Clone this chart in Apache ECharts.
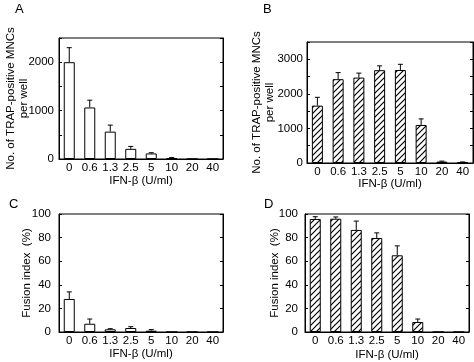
<!DOCTYPE html>
<html>
<head>
<meta charset="utf-8">
<script src="https://cdn.jsdelivr.net/npm/echarts@6/dist/echarts.min.js"></script>
<style>
html,body{margin:0;padding:0;background:#fff;}
#c{width:474px;height:362px;}
</style>
</head>
<body>
<div id="c"></div>
<script>
// ---- data ----
var categories = ['0', '0.6', '1.3', '2.5', '5', '10', '20', '40'];
var trapPlain   = [2000, 1065, 565, 210, 115, 20, 0, 0];
var trapPlainSD = [300, 150, 135, 50, 15, 10, 0, 0];
var trapHatch   = [1660, 2425, 2470, 2685, 2690, 1100, 40, 20];
var trapHatchSD = [240, 190, 130, 125, 165, 175, 15, 10];
var fusionPlain   = [28, 7, 2.3, 3.4, 1.1, 0, 0, 0];
var fusionPlainSD = [6, 4, 0.5, 1.1, 0.9, 0, 0, 0];
var fusionHatch   = [95.8, 96, 86.5, 79.7, 65, 8.5, 0, 0];
var fusionHatchSD = [1.9, 1.5, 7.5, 4.3, 8, 2.5, 0, 0];
var panelLetters = ['A', 'B', 'C', 'D'];
var xTitle = 'IFN-β (U/ml)';
var yTitleTrap = 'No. of TRAP-positive MNCs\nper well';
var yTitleFusion = 'Fusion index  (%)';

// ---- hatch pattern ----
function makeHatch() {
  var s = 6;
  var cv = document.createElement('canvas');
  cv.width = s; cv.height = s;
  var ctx = cv.getContext('2d');
  ctx.fillStyle = '#fff';
  ctx.fillRect(0, 0, s, s);
  ctx.strokeStyle = '#000';
  ctx.lineWidth = 1.2;
  ctx.beginPath();
  ctx.moveTo(-1, s + 1); ctx.lineTo(s + 1, -1);
  ctx.moveTo(-1, 1); ctx.lineTo(1, -1);
  ctx.moveTo(s - 1, s + 1); ctx.lineTo(s + 1, s - 1);
  ctx.stroke();
  return cv;
}
var hatch = { image: makeHatch(), repeat: 'repeat' };

var FONT = '"Liberation Sans", Arial, Helvetica, sans-serif';
var grids = [
  { left: 59, top: 38, width: 164, height: 121 },
  { left: 307, top: 42, width: 166, height: 121 },
  { left: 59, top: 214, width: 164, height: 118 },
  { left: 305, top: 214, width: 164, height: 118 }
];
var panels = [
  { vals: trapPlain, sd: trapPlainSD, fill: '#fff', max: 2500, interval: 500, labelEvery: 1000, yName: yTitleTrap, yGap: 29, yMargin: 5, xGap: 16 },
  { vals: trapHatch, sd: trapHatchSD, fill: hatch, max: 3500, interval: 500, labelEvery: 1000, yName: yTitleTrap, yGap: 30.5, yMargin: 4, xGap: 15 },
  { vals: fusionPlain, sd: fusionPlainSD, fill: '#fff', max: 100, interval: 20, labelEvery: 20, yName: yTitleFusion, yGap: 26, yMargin: 8, xGap: 16 },
  { vals: fusionHatch, sd: fusionHatchSD, fill: hatch, max: 100, interval: 20, labelEvery: 20, yName: yTitleFusion, yGap: 24, yMargin: 7, xGap: 17 }
];

var xAxes = [], yAxes = [], series = [];
panels.forEach(function (p, i) {
  xAxes.push({
    type: 'category', gridIndex: i, data: categories,
    axisLine: { lineStyle: { color: '#000', width: 1 } },
    axisTick: { inside: true, length: 3, lineStyle: { color: '#000' } },
    axisLabel: { interval: 0, margin: 3, color: '#000', fontSize: 11.5, fontFamily: FONT },
    name: xTitle, nameLocation: 'middle', nameGap: p.xGap, nameMoveOverlap: false,
    nameTextStyle: { color: '#000', fontSize: 11.5, fontFamily: FONT }
  });
  yAxes.push({
    type: 'value', gridIndex: i, min: 0, max: p.max, interval: p.interval,
    axisLine: { show: true, lineStyle: { color: '#000', width: 1 } },
    axisTick: { show: true, inside: true, length: 3, lineStyle: { color: '#000' } },
    axisLabel: {
      margin: p.yMargin, color: '#000', fontSize: 11.5, fontFamily: FONT,
      formatter: (function (every) { return function (v) { return (v % every === 0) ? String(v) : ''; }; })(p.labelEvery)
    },
    splitLine: { show: false },
    name: p.yName, nameLocation: 'middle', nameGap: p.yGap, nameMoveOverlap: false,
    nameTextStyle: { color: '#000', fontSize: 11.5, fontFamily: FONT, lineHeight: 13, align: 'center' }
  });
  yAxes.push({
    type: 'value', gridIndex: i, min: 0, max: p.max, interval: p.interval, position: 'right',
    axisLine: { show: true, lineStyle: { color: '#000', width: 1 } },
    axisTick: { show: true, inside: true, length: 3, lineStyle: { color: '#000' } },
    axisLabel: { show: false },
    splitLine: { show: false }
  });
  series.push({
    type: 'bar', xAxisIndex: i, yAxisIndex: i * 2, data: p.vals, barWidth: 11,
    itemStyle: { color: p.fill, borderColor: '#000', borderWidth: 1 },
    silent: true, animation: false
  });
  var errData = p.vals.map(function (v, k) { return [k, v, v + p.sd[k]]; });
  series.push({
    type: 'custom', xAxisIndex: i, yAxisIndex: i * 2, data: errData, silent: true, animation: false, z: 1,
    renderItem: function (params, api) {
      var lo = api.value(1), hi = api.value(2);
      if (hi - lo <= 0) return null;
      var a = api.coord([api.value(0), lo]);
      var b = api.coord([api.value(0), hi]);
      var w = 2.5;
      return {
        type: 'group', children: [
          { type: 'line', shape: { x1: a[0], y1: a[1], x2: b[0], y2: b[1] }, style: { stroke: '#000', lineWidth: 1 } },
          { type: 'line', shape: { x1: b[0] - w, y1: b[1], x2: b[0] + w, y2: b[1] }, style: { stroke: '#000', lineWidth: 1 } }
        ]
      };
    }
  });
});

var letterPos = [[15, 3], [263, 3], [9, 198], [264, 198]];
var graphics = panelLetters.map(function (t, i) {
  return { type: 'text', left: letterPos[i][0], top: letterPos[i][1],
    style: { text: t, fill: '#000', font: '13px ' + FONT } };
});

var chart = echarts.init(document.getElementById('c'), null, { renderer: 'canvas' });
chart.setOption({
  animation: false,
  backgroundColor: '#fff',
  grid: grids.map(function (g) { return Object.assign({ show: true, borderColor: '#000', borderWidth: 1, backgroundColor: 'transparent' }, g); }),
  xAxis: xAxes,
  yAxis: yAxes,
  series: series,
  graphic: graphics
});
</script>
</body>
</html>
